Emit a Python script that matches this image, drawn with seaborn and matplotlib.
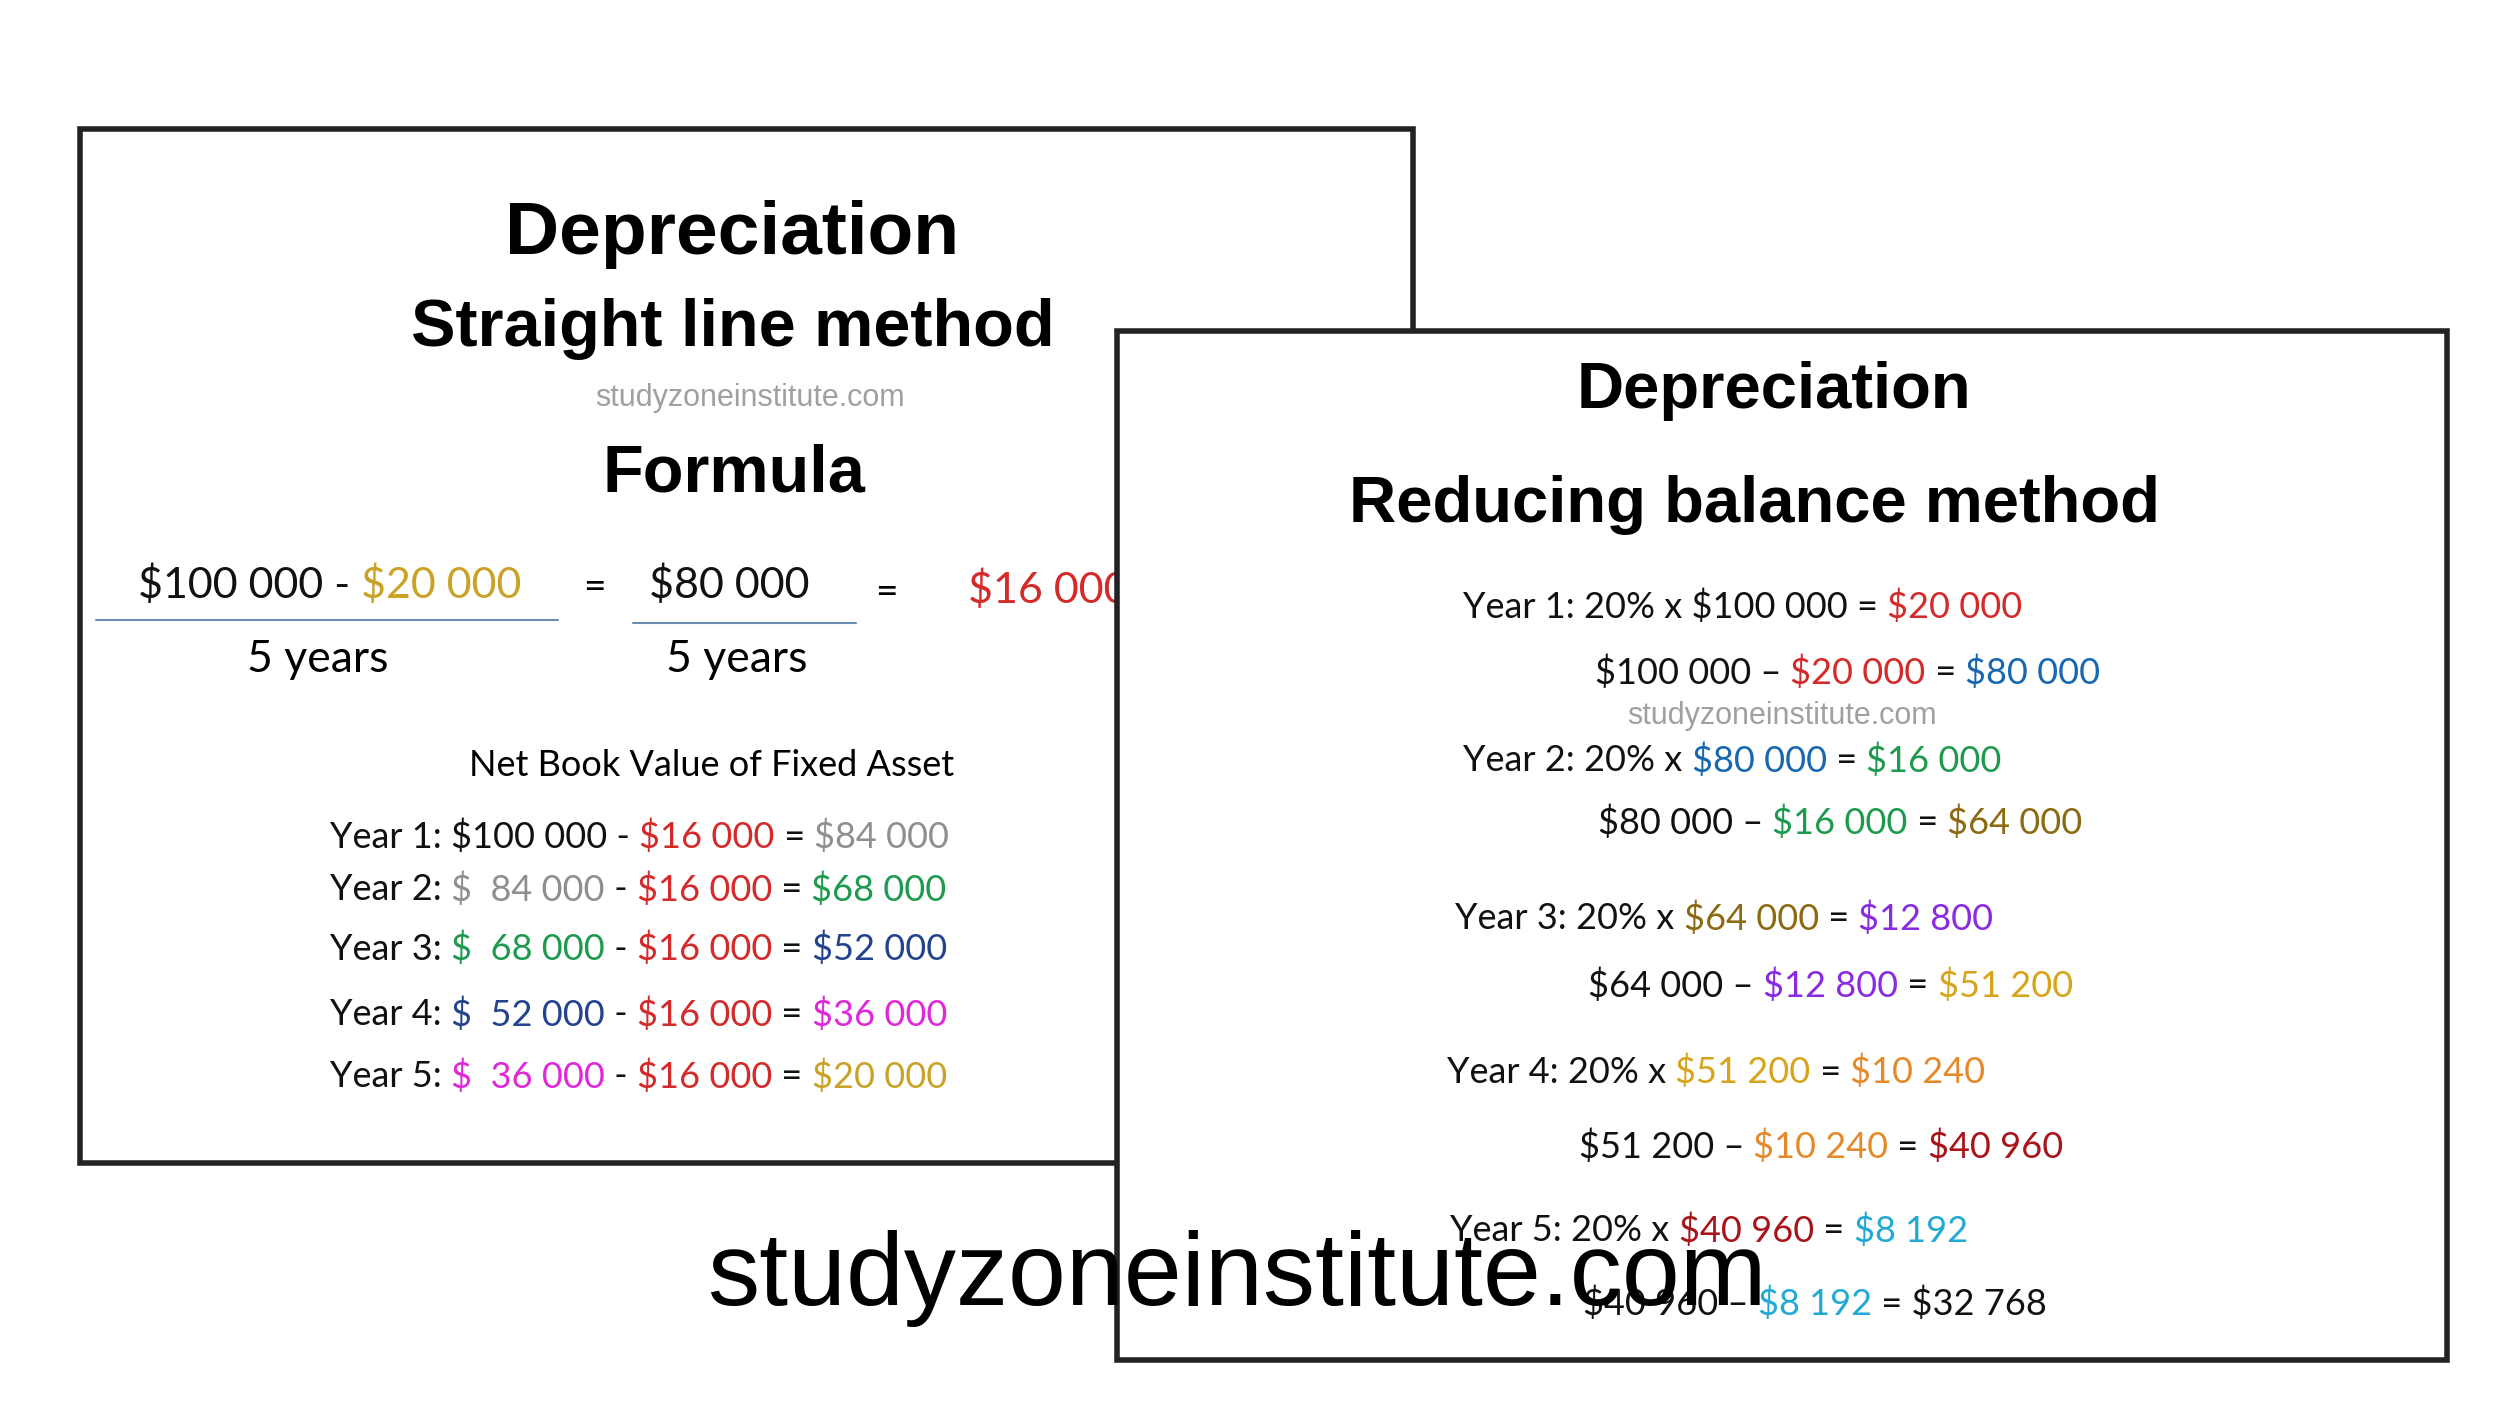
import matplotlib
matplotlib.use("Agg")
import matplotlib.pyplot as plt
import seaborn as sns
from matplotlib.patches import Rectangle

sns.set_theme(style="white")

BODY = ["Lato", "DejaVu Sans"]
HEAD = ["Liberation Sans", "DejaVu Sans"]
XW = 1560  # width of the drawing space

COL = {"k": "#111111", "red": "#d42a2a", "gold": "#c9a227", "gray": "#8f8f8f",
       "green": "#1e9a4e", "navy": "#24438f", "mag": "#e028d8", "blue": "#1768b0",
       "olive": "#8c6a12", "purple": "#8a2be2", "yel": "#d6a51c", "orange": "#e58a2a",
       "dred": "#a8141a", "cyan": "#22a9d4"}

# straight line method
cost, residual, years = "$100 000", "$20 000", "5 years"
annual = "$16 000"
left_rows = [
    [("Year 1: $100 000 - ", "k"), ("$16 000", "red"), (" = ", "k"), ("$84 000", "gray")],
    [("Year 2: ", "k"), ("$  84 000", "gray"), (" - ", "k"), ("$16 000", "red"), (" = ", "k"), ("$68 000", "green")],
    [("Year 3: ", "k"), ("$  68 000", "green"), (" - ", "k"), ("$16 000", "red"), (" = ", "k"), ("$52 000", "navy")],
    [("Year 4: ", "k"), ("$  52 000", "navy"), (" - ", "k"), ("$16 000", "red"), (" = ", "k"), ("$36 000", "mag")],
    [("Year 5: ", "k"), ("$  36 000", "mag"), (" - ", "k"), ("$16 000", "red"), (" = ", "k"), ("$20 000", "gold")],
]
left_rows_y = [524, 557, 594, 635, 674]

# reducing balance method
right_rows = [
    [("Year 1: 20% x $100 000 = ", "k"), ("$20 000", "red")],
    [("$100 000 – ", "k"), ("$20 000", "red"), (" = ", "k"), ("$80 000", "blue")],
    [("Year 2: 20% x ", "k"), ("$80 000", "blue"), (" = ", "k"), ("$16 000", "green")],
    [("$80 000 – ", "k"), ("$16 000", "green"), (" = ", "k"), ("$64 000", "olive")],
    [("Year 3: 20% x ", "k"), ("$64 000", "olive"), (" = ", "k"), ("$12 800", "purple")],
    [("$64 000 – ", "k"), ("$12 800", "purple"), (" = ", "k"), ("$51 200", "yel")],
    [("Year 4: 20% x ", "k"), ("$51 200", "yel"), (" = ", "k"), ("$10 240", "orange")],
    [("$51 200 – ", "k"), ("$10 240", "orange"), (" = ", "k"), ("$40 960", "dred")],
    [("Year 5: 20% x ", "k"), ("$40 960", "dred"), (" = ", "k"), ("$8 192", "cyan")],
    [("$40 960 – ", "k"), ("$8 192", "cyan"), (" = $32 768", "k")],
]
right_rows_x = [913, 995, 913, 997, 908, 991, 903, 985, 905, 988]
right_rows_y = [380, 421, 476, 515, 575, 617, 671, 718, 770, 816]

fig = plt.figure(figsize=(25, 14.06), dpi=100)
ax = fig.add_axes([0, 0, 1, 1])
ax.set_xlim(0, XW)
ax.set_ylim(880, 0)
ax.axis("off")
renderer = fig.canvas.get_renderer()


def put(x, y, s, size, family=BODY, z=2, **kw):
    kw.setdefault("color", "black")
    kw.setdefault("ha", "center")
    return ax.text(x, y, s, fontsize=size, family=family, va="center",
                   zorder=z, parse_math=False, **kw)


def text_w(s, size, family):
    t = ax.text(0, 0, s + "x", fontsize=size, family=family, parse_math=False)
    t2 = ax.text(0, 0, "x", fontsize=size, family=family, parse_math=False)
    w = t.get_window_extent(renderer).width - t2.get_window_extent(renderer).width
    t.remove(); t2.remove()
    return w * XW / 2500


def seg_text(x, y, parts, size, z, family=BODY):
    prefix = ""
    for s, c in parts:
        put(x + text_w(prefix, size, family), y, s, size, family, z, color=COL[c], ha="left")
        prefix += s


# left box
ax.add_patch(Rectangle((50, 81), 832, 647, fill=True, fc="white", ec="#222222", lw=4, zorder=1))
put(457, 147, "Depreciation", 54, HEAD, weight="bold")
put(457, 206, "Straight line method", 48, HEAD, weight="bold")
put(468, 249, "studyzoneinstitute.com", 22, HEAD, color="#a0a0a0")
put(458, 297, "Formula", 48, HEAD, weight="bold")
seg_text(86, 366, [(cost + " - ", "k"), (residual, "gold")], 31, 2)
put(371, 368, "=", 28)
seg_text(405, 366, [("$80 000", "k")], 31, 2)
put(553, 371, "=", 28)
seg_text(604, 369, [(annual, "red")], 31, 2)
ax.plot([60, 348], [388, 388], color="#6d8db5", lw=1.5, zorder=2)
ax.plot([395, 534], [390, 390], color="#6d8db5", lw=1.5, zorder=2)
put(198, 413, years, 32)
put(460, 413, years, 32)
put(444, 479, "Net Book Value of Fixed Asset", 26)
for row, y in zip(left_rows, left_rows_y):
    seg_text(206, y, row, 26, 2)

# right box
ax.add_patch(Rectangle((697, 207), 830, 644, fill=True, fc="white", ec="#222222", lw=4, zorder=3))
put(1107, 245, "Depreciation", 47, HEAD, 4, weight="bold")
put(1095, 316, "Reducing balance method", 47, HEAD, 4, weight="bold")
put(1112, 448, "studyzoneinstitute.com", 22, HEAD, 4, color="#a0a0a0")
for row, x, y in zip(right_rows, right_rows_x, right_rows_y):
    seg_text(x, y, row, 26, 4)

put(772, 800, "studyzoneinstitute.com", 75, HEAD, 6)

fig.savefig("out.png", dpi=100)
